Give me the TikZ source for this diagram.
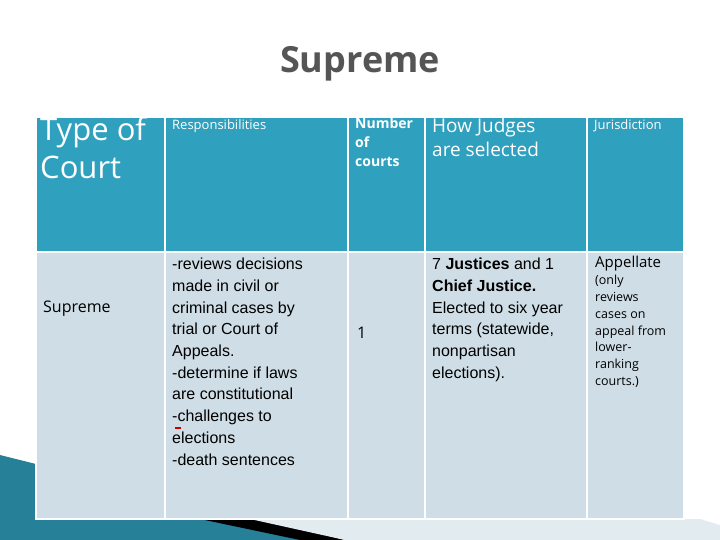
\documentclass[tikz,border=0pt]{standalone}
\usepackage{fontspec}
\setmainfont{Liberation Sans}
\newfontfamily\hdr{Open Sans}
\definecolor{hd}{HTML}{2FA0BE}
\definecolor{bd}{HTML}{CFDEE6}
\definecolor{ttl}{HTML}{555555}
\begin{document}
\begin{tikzpicture}[x=1pt,y=-1pt,
 hcell/.style={fill=hd,draw=white,line width=2pt},
 bcell/.style={fill=bd,draw=white,line width=2pt},
 tx/.style={anchor=north west,inner sep=0pt,align=left,font=\fontsize{16}{21.7}\selectfont},
 ht/.style={anchor=north west,inner sep=0pt,align=left,text=white}]
\useasboundingbox (0,0) rectangle (720,540);
% decoration
\fill[hd!80!black] (0,455) -- (60,470) -- (260,520) -- (330,540) -- (0,540) -- cycle;
\fill[black] (200,519) -- (260,519) -- (345,540) -- (300,540) -- cycle;
\fill[bd!60] (250,519) -- (700,519) -- (720,525) -- (720,540) -- (345,540) -- cycle;
\node[font=\hdr\bfseries\fontsize{36}{36}\selectfont,text=ttl] (title) at (360,64) {Supreme};
% cells
\path[hcell] (36,117) rectangle (165,252);
\path[hcell] (165,117) rectangle (348,252);
\path[hcell] (348,117) rectangle (425,252);
\path[hcell] (425,117) rectangle (587,252);
\path[hcell] (587,117) rectangle (684,252);
\path[bcell] (36,252) rectangle (165,519);
\path[bcell] (165,252) rectangle (348,519);
\path[bcell] (348,252) rectangle (425,519);
\path[bcell] (425,252) rectangle (587,519);
\path[bcell] (587,252) rectangle (684,519);
\node[ht,font=\hdr\fontsize{31}{38}\selectfont] (h1) at (40,117) {Type of\\Court};
\node[ht,font=\hdr\fontsize{13}{16}\selectfont] (h2) at (172,119) {Responsibilities};
\node[ht,font=\hdr\bfseries\fontsize{14}{19}\selectfont] (h3) at (355,118) {Number\\of\\courts};
\node[ht,font=\hdr\fontsize{19}{24}\selectfont] (h4) at (432,118) {How Judges\\are selected};
\node[ht,font=\hdr\fontsize{13}{16}\selectfont] (h5) at (594,119) {Jurisdiction};
\node[anchor=west,inner sep=0pt,font=\hdr\fontsize{16}{16}\selectfont] (b1) at (43,309) {Supreme};
\node[tx] (b2) at (172,258) {-reviews decisions\\made in civil or\\criminal cases by\\trial or Court of\\Appeals.\\-determine if laws\\are constitutional\\-challenges to\\elections\\-death sentences};
\draw[red!80!black,line width=2pt] (175,428) -- (181,428);
\node[anchor=west,inner sep=0pt,font=\hdr\fontsize{16}{16}\selectfont] (b3) at (357,333) {1};
\node[tx] (b4) at (432,258) {7 \textbf{Justices} and 1\\\textbf{Chief Justice.}\\Elected to six year\\terms (statewide,\\nonpartisan\\elections).};
\node[ht,text=black,font=\hdr\fontsize{15}{15}\selectfont] (b5) at (595,256) {Appellate};
\node[ht,text=black,font=\hdr\fontsize{12.5}{16.8}\selectfont] (b6) at (595,275) {(only\\reviews\\cases on\\appeal from\\lower-\\ranking\\courts.)};
\end{tikzpicture}
\end{document}
